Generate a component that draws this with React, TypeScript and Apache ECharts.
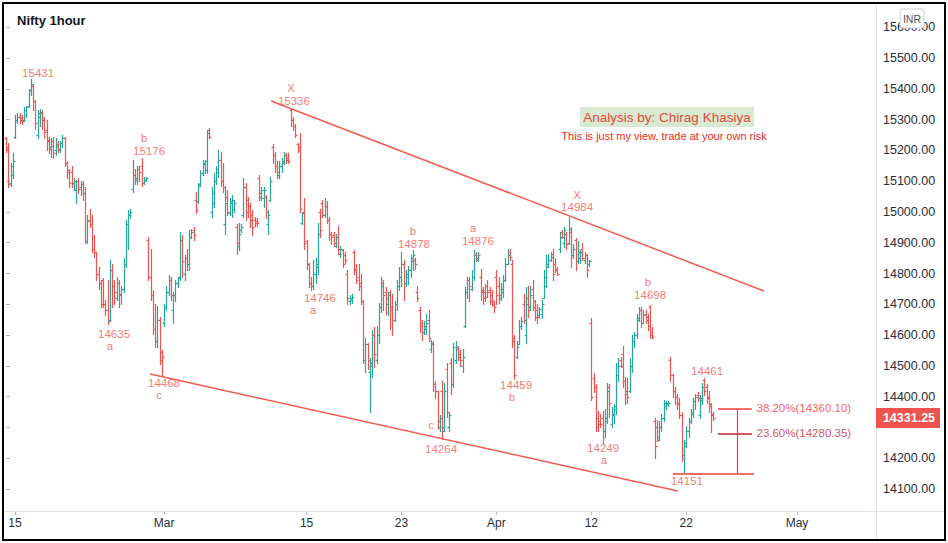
import React, { useEffect, useRef } from "react";
import * as echarts from "echarts";

// ---------- data ----------
const TITLE = "Nifty 1hour";
const LAST_PRICE = 14331.25;

// hourly bars from Feb 15 2021, 09:15 : [open, close, low, high]
const ohlc: number[][] = [
  [15240, 15205, 15195, 15245], [15210, 15090, 15080, 15225], [15095, 15150, 15085, 15160], [15120, 15165, 15110, 15190],
  [15245, 15300, 15240, 15315], [15300, 15310, 15290, 15320], [15310, 15300, 15290, 15320], [15305, 15295, 15285, 15315],
  [15300, 15330, 15295, 15340], [15330, 15340, 15310, 15345], [15345, 15395, 15340, 15400], [15395, 15415, 15380, 15431],
  [15410, 15360, 15330, 15415], [15360, 15290, 15270, 15365], [15250, 15320, 15240, 15330], [15310, 15325, 15280, 15335],
  [15320, 15300, 15270, 15330], [15300, 15260, 15240, 15310], [15265, 15230, 15200, 15300], [15235, 15205, 15190, 15245],
  [15210, 15215, 15180, 15240], [15230, 15190, 15175, 15245], [15200, 15215, 15185, 15240], [15220, 15200, 15195, 15230],
  [15205, 15225, 15195, 15230], [15225, 15240, 15210, 15250], [15240, 15160, 15150, 15245], [15160, 15130, 15110, 15165],
  [15135, 15095, 15080, 15140], [15130, 15095, 15080, 15150], [15095, 15100, 15070, 15110], [15070, 15100, 15030, 15105],
  [15100, 15075, 15060, 15110], [15080, 15090, 15055, 15100], [15090, 15060, 15040, 15100], [15060, 14905, 14900, 15080],
  [14905, 14970, 14900, 14990], [14975, 14960, 14950, 15010], [14960, 14880, 14870, 14990], [14880, 14870, 14855, 14925],
  [14870, 14800, 14780, 14870], [14800, 14770, 14750, 14820], [14770, 14700, 14690, 14780], [14780, 14700, 14690, 14785],
  [14700, 14680, 14665, 14715], [14680, 14645, 14635, 14780], [14650, 14810, 14645, 14845], [14810, 14760, 14690, 14830],
  [14760, 14740, 14700, 14780], [14720, 14770, 14715, 14790], [14770, 14730, 14690, 14780], [14735, 14750, 14700, 14760],
  [14750, 14830, 14740, 14850], [14830, 14960, 14820, 14975], [14960, 14990, 14880, 15005], [14990, 15000, 14980, 15010],
  [15075, 15120, 15065, 15170], [15120, 15110, 15090, 15140], [15105, 15140, 15090, 15150], [15140, 15130, 15100, 15150],
  [15150, 15095, 15085, 15176], [15095, 15105, 15090, 15115], [15105, 15110, 15100, 15115], [14910, 14790, 14780, 14920],
  [14790, 14730, 14715, 14880], [14730, 14620, 14605, 14745], [14620, 14580, 14560, 14700], [14580, 14650, 14560, 14695],
  [14650, 14520, 14505, 14660], [14545, 14530, 14468, 14550], [14640, 14690, 14630, 14700], [14690, 14740, 14680, 14760],
  [14740, 14780, 14730, 14795], [14780, 14730, 14715, 14790], [14680, 14730, 14640, 14740], [14730, 14770, 14710, 14780],
  [14770, 14785, 14755, 14790], [14790, 14910, 14780, 14935], [14910, 14840, 14790, 14925], [14800, 14850, 14780, 14860],
  [14850, 14830, 14810, 14880], [14830, 14920, 14810, 14940], [14920, 14935, 14915, 14945], [14940, 14925, 14910, 14950],
  [15040, 15005, 14995, 15065], [15035, 15085, 15030, 15095], [15090, 15125, 15085, 15135], [15125, 15160, 15120, 15170],
  [15155, 15165, 15125, 15170], [15135, 15255, 15125, 15265], [15265, 15245, 15240, 15272], [15000, 15060, 14985, 15080],
  [15030, 15100, 15015, 15125], [15100, 15140, 15090, 15150], [15130, 15170, 15115, 15200], [15170, 15100, 15085, 15195],
  [15100, 15080, 15065, 15160], [14960, 15030, 14930, 15085], [15050, 15000, 14990, 15070], [14995, 15035, 14990, 15045],
  [15030, 15040, 14985, 15055], [15010, 15030, 15000, 15040], [14950, 14900, 14865, 14960], [14890, 14930, 14875, 14965],
  [14940, 14950, 14935, 14960], [14990, 15080, 14985, 15110], [15080, 15000, 14975, 15095], [15040, 15020, 14985, 15050],
  [15020, 14975, 14950, 15030], [14990, 14950, 14925, 15005], [14975, 14965, 14955, 14985], [14970, 14965, 14955, 14980],
  [15110, 15060, 15040, 15120], [15050, 15070, 15040, 15080], [15045, 15070, 15015, 15080], [15050, 15000, 14980, 15055],
  [14960, 14990, 14930, 15005], [15040, 15100, 15035, 15115], [15210, 15185, 15160, 15220], [15185, 15150, 15130, 15195],
  [15150, 15130, 15110, 15165], [15120, 15150, 15110, 15165], [15150, 15165, 15130, 15175], [15160, 15185, 15155, 15195],
  [15185, 15170, 15160, 15190], [15175, 15165, 15160, 15190], [15330, 15300, 15280, 15336], [15300, 15280, 15265, 15310],
  [15280, 15250, 15245, 15285], [15220, 15200, 15195, 15225], [15210, 15010, 15000, 15255], [14965, 14995, 14960, 15000],
  [15000, 14900, 14880, 15045], [14905, 14830, 14815, 14910], [14830, 14770, 14755, 14835], [14770, 14760, 14746, 14790],
  [14760, 14800, 14750, 14845], [14800, 14830, 14770, 14850], [14820, 14930, 14800, 14965], [15000, 14940, 14920, 15010],
  [15030, 14990, 14985, 15040], [14990, 15020, 14985, 15045], [15020, 14975, 14965, 15035], [14975, 14930, 14910, 14985],
  [14930, 14920, 14895, 14935], [14925, 14900, 14890, 14935], [14890, 14920, 14885, 14930], [14920, 14880, 14865, 14955],
  [14865, 14880, 14855, 14890], [14875, 14830, 14820, 14880], [14860, 14845, 14835, 14870], [14800, 14720, 14700, 14810],
  [14710, 14720, 14700, 14730], [14715, 14725, 14705, 14735], [14870, 14810, 14800, 14876], [14815, 14780, 14770, 14830],
  [14790, 14760, 14745, 14830], [14770, 14710, 14700, 14800], [14710, 14520, 14510, 14715], [14520, 14570, 14480, 14590],
  [14570, 14520, 14490, 14575], [14480, 14510, 14350, 14525], [14500, 14600, 14465, 14615], [14600, 14540, 14495, 14625],
  [14520, 14600, 14510, 14630], [14600, 14690, 14575, 14705], [14690, 14760, 14675, 14790], [14770, 14730, 14680, 14780],
  [14740, 14720, 14670, 14755], [14700, 14730, 14665, 14740], [14740, 14680, 14620, 14746], [14690, 14650, 14600, 14735],
  [14650, 14700, 14645, 14710], [14700, 14760, 14680, 14780], [14760, 14790, 14745, 14820], [14790, 14830, 14760, 14870],
  [14830, 14770, 14715, 14845], [14770, 14800, 14760, 14810], [14790, 14810, 14765, 14825], [14810, 14850, 14790, 14860],
  [14840, 14860, 14810, 14878], [14845, 14830, 14815, 14850], [14740, 14720, 14710, 14760], [14680, 14630, 14610, 14690],
  [14640, 14610, 14585, 14650], [14610, 14630, 14605, 14645], [14620, 14640, 14605, 14670], [14650, 14590, 14580, 14680],
  [14555, 14575, 14545, 14585], [14570, 14440, 14420, 14580], [14440, 14420, 14395, 14450], [14420, 14320, 14295, 14420],
  [14300, 14330, 14290, 14340], [14420, 14290, 14264, 14450], [14300, 14420, 14290, 14445], [14490, 14350, 14335, 14510],
  [14300, 14340, 14290, 14350], [14510, 14440, 14410, 14525], [14440, 14560, 14430, 14575], [14520, 14555, 14510, 14580],
  [14560, 14530, 14520, 14565], [14540, 14520, 14500, 14550], [14500, 14530, 14480, 14555], [14630, 14740, 14625, 14755],
  [14740, 14780, 14720, 14790], [14780, 14760, 14710, 14790], [14750, 14790, 14745, 14810], [14790, 14860, 14780, 14876],
  [14860, 14850, 14840, 14870], [14845, 14860, 14840, 14870], [14790, 14740, 14715, 14815], [14745, 14720, 14700, 14755],
  [14740, 14725, 14710, 14765], [14760, 14740, 14725, 14780], [14745, 14710, 14700, 14755], [14730, 14710, 14695, 14745],
  [14700, 14690, 14675, 14710], [14790, 14730, 14700, 14810], [14760, 14730, 14705, 14790], [14720, 14750, 14715, 14770],
  [14740, 14780, 14725, 14795], [14780, 14830, 14775, 14850], [14830, 14860, 14830, 14880], [14870, 14855, 14845, 14880],
  [14830, 14580, 14560, 14845], [14590, 14470, 14459, 14600], [14530, 14560, 14525, 14580], [14570, 14630, 14570, 14650],
  [14630, 14645, 14620, 14660], [14700, 14650, 14640, 14735], [14600, 14700, 14575, 14755], [14720, 14680, 14660, 14760],
  [14690, 14730, 14680, 14760], [14750, 14690, 14680, 14780], [14710, 14660, 14650, 14715], [14680, 14660, 14640, 14700],
  [14665, 14685, 14655, 14690], [14670, 14700, 14655, 14715], [14720, 14790, 14720, 14810], [14760, 14820, 14755, 14860],
  [14830, 14845, 14820, 14865], [14845, 14855, 14840, 14870], [14865, 14800, 14780, 14880], [14830, 14810, 14805, 14850],
  [14815, 14800, 14795, 14820], [14880, 14920, 14870, 14935], [14935, 14920, 14915, 14940], [14900, 14940, 14885, 14950],
  [14930, 14895, 14880, 14935], [14900, 14945, 14895, 14984], [14935, 14860, 14820, 14950], [14860, 14880, 14850, 14895],
  [14910, 14840, 14810, 14915], [14840, 14870, 14835, 14905], [14850, 14870, 14835, 14875], [14880, 14850, 14845, 14900],
  [14845, 14860, 14835, 14870], [14860, 14810, 14790, 14865], [14830, 14840, 14825, 14845], [14640, 14400, 14390, 14655],
  [14460, 14430, 14415, 14476], [14430, 14300, 14290, 14440], [14330, 14310, 14290, 14355], [14320, 14310, 14300, 14345],
  [14330, 14290, 14249, 14355], [14290, 14330, 14270, 14360], [14320, 14420, 14315, 14445], [14430, 14380, 14335, 14440],
  [14310, 14345, 14300, 14365], [14340, 14370, 14315, 14375], [14360, 14470, 14345, 14510], [14470, 14500, 14450, 14525],
  [14520, 14500, 14495, 14530], [14540, 14450, 14430, 14565], [14450, 14410, 14375, 14465], [14420, 14400, 14380, 14460],
  [14420, 14500, 14415, 14525], [14500, 14580, 14480, 14600], [14580, 14600, 14560, 14610], [14600, 14650, 14590, 14670],
  [14655, 14680, 14645, 14690], [14680, 14640, 14625, 14690], [14640, 14665, 14640, 14680], [14670, 14650, 14640, 14680],
  [14660, 14630, 14615, 14670], [14690, 14600, 14590, 14698], [14610, 14595, 14590, 14625], [14320, 14240, 14200, 14330],
  [14300, 14260, 14255, 14325], [14270, 14300, 14260, 14320], [14300, 14330, 14290, 14345], [14330, 14380, 14320, 14390],
  [14370, 14380, 14360, 14385], [14375, 14380, 14370, 14385], [14520, 14470, 14450, 14530], [14470, 14420, 14400, 14475],
  [14420, 14400, 14375, 14430], [14400, 14375, 14360, 14410], [14380, 14340, 14330, 14395], [14340, 14210, 14190, 14350],
  [14200, 14250, 14151, 14260], [14240, 14290, 14235, 14305], [14290, 14320, 14270, 14330], [14320, 14350, 14315, 14360],
  [14345, 14385, 14335, 14395], [14385, 14400, 14360, 14410], [14405, 14395, 14385, 14415], [14340, 14395, 14330, 14405],
  [14390, 14430, 14375, 14445], [14455, 14420, 14405, 14461], [14430, 14395, 14380, 14440], [14400, 14370, 14350, 14420],
  [14375, 14340, 14285, 14380], [14345, 14331.25, 14325, 14350],
];

// time axis: bar index of each labelled tick
const timeTickIndex = [4, 70, 133, 175, 217, 259, 301, 350];
const timeTickLabels = ["15", "Mar", "15", "23", "Apr", "12", "22", "May"];

// price axis ticks (14300 is hidden behind the last-price badge)
const priceTicks = [14100, 14200, 14300, 14400, 14500, 14600, 14700, 14800, 14900, 15000, 15100, 15200, 15300, 15400, 15500, 15600];
const priceLabelTicks = [14100, 14200, 14400, 14500, 14600, 14700, 14800, 14900, 15000, 15100, 15200, 15300, 15400, 15500, 15600];

// wave annotations: [text, bar index, price]
const waveLabels: [string, number, number][] = [
  ["15431", 14.2, 15451],
  ["b", 61.1, 15240], ["15176", 63.3, 15198],
  ["X", 126.1, 15403], ["15336", 127.4, 15360],
  ["14635", 47.8, 14604], ["a", 46.0, 14565],
  ["14468", 69.9, 14444], ["c", 67.7, 14405],
  ["14746", 138.9, 14721], ["a", 135.8, 14682],
  ["b", 180.1, 14938], ["14878", 180.5, 14896],
  ["a", 206.6, 14948], ["14876", 208.8, 14906],
  ["X", 252.7, 15055], ["14984", 252.7, 15016],
  ["b", 284.1, 14773], ["14698", 285.0, 14730],
  ["14459", 225.7, 14438], ["b", 223.9, 14399],
  ["c", 188.1, 14308], ["14264", 192.5, 14230],
  ["14249", 264.2, 14233], ["a", 264.6, 14194],
  ["14461", 310.2, 14483],
  ["14151", 301.3, 14127],
];

// channel lines: [[index, price], [index, price]]
const channelLines: [number, number][][] = [
  [[117.3, 15360.3], [335.4, 14743.3]],
  [[63.7, 14473.7], [297.3, 14093.7]],
];

// fibonacci tool
const fibLevels = [
  { text: "38.20%(14360.10)", price: 14360.1 },
  { text: "23.60%(14280.35)", price: 14280.35 },
];
const fibBasePrice = 14151;
const fibRange = [315, 330];
const fibBaseRange = [295.1, 331];
const fibStemIndex = 323.5;
const fibTextIndex = 332.3;

// ---------- styles ----------
const GREEN = "#26a69a";
const RED = "#ef5350";
const ANN = "#ef564e";
const FONT = '"Liberation Sans", Arial, sans-serif';
const X_MIN = -0.885;
const X_MAX = 384.96;
const Y_MIN = 14028.7;
const Y_MAX = 15675.4;

export default function App() {
  const ref = useRef<HTMLDivElement>(null);

  useEffect(() => {
    document.body.style.margin = "0";
    const chart = echarts.init(ref.current!, null, { renderer: "svg" });

    const barData = ohlc.map((b, i) => [i, b[0], b[1], b[2], b[3]]);

    const fibColors = ["#f23a35", "#c3262c"];
    const seg = (a: number[], b: number[], color: string, width: number) => [
      { coord: a, lineStyle: { color, width, type: "solid" } },
      { coord: b, lineStyle: { color, width, type: "solid" } },
    ];
    const markLines: any[] = [];
    channelLines.forEach((ln) => markLines.push(seg(ln[0], ln[1], "#f25a52", 1.5)));
    fibLevels.forEach((f, k) =>
      markLines.push(seg([fibRange[0], f.price], [fibRange[1], f.price], fibColors[k], 1.5))
    );
    markLines.push(seg([fibBaseRange[0], fibBasePrice], [fibBaseRange[1], fibBasePrice], "#e8413b", 1.5));
    markLines.push(seg([fibStemIndex, fibLevels[0].price], [fibStemIndex, fibBasePrice], "#e8413b", 1.2));

    const option: any = {
      animation: false,
      backgroundColor: "#ffffff",
      grid: { left: 4, right: 72, top: 4, bottom: 32 },
      xAxis: {
        type: "value",
        min: X_MIN,
        max: X_MAX,
        axisLine: { show: false },
        splitLine: { show: false },
        axisTick: { show: true, customValues: timeTickIndex, length: 4, lineStyle: { color: "#b2b5be" } },
        axisLabel: {
          customValues: timeTickIndex,
          formatter: (v: number) => {
            const k = timeTickIndex.indexOf(Math.round(v));
            return k >= 0 ? timeTickLabels[k] : "";
          },
          color: "#2a2e39",
          fontSize: 12,
          fontFamily: FONT,
          margin: 6,
        },
      },
      yAxis: {
        type: "value",
        position: "right",
        min: Y_MIN,
        max: Y_MAX,
        axisLine: { show: false },
        splitLine: { show: false },
        axisTick: { show: true, customValues: priceTicks, length: 4, lineStyle: { color: "#b2b5be" } },
        axisLabel: {
          customValues: priceLabelTicks,
          formatter: (v: number) => v.toFixed(2),
          color: "#2a2e39",
          fontSize: 12.5,
          fontFamily: FONT,
          margin: 7,
        },
      },
      series: [
        {
          type: "custom",
          name: "ohlc",
          data: barData,
          encode: { x: 0, y: [1, 2, 3, 4] },
          renderItem: (_params: any, api: any) => {
            const idx = api.value(0);
            const o = api.value(1);
            const c = api.value(2);
            const l = api.value(3);
            const h = api.value(4);
            const pH = api.coord([idx, h]);
            const pL = api.coord([idx, l]);
            const pO = api.coord([idx, o]);
            const pC = api.coord([idx, c]);
            const x = Math.round(pH[0]) + 0.5;
            const color = c >= o ? GREEN : RED;
            const style = { stroke: color, lineWidth: 1.2 };
            const yo = Math.round(pO[1]) + 0.5;
            const yc = Math.round(pC[1]) + 0.5;
            return {
              type: "group",
              children: [
                { type: "line", shape: { x1: x, y1: Math.round(pH[1]), x2: x, y2: Math.round(pL[1]) + 1 }, style },
                { type: "line", shape: { x1: x - 2, y1: yo, x2: x, y2: yo }, style },
                { type: "line", shape: { x1: x, y1: yc, x2: x + 2, y2: yc }, style },
              ],
            };
          },
        },
        {
          type: "scatter",
          name: "waves",
          silent: true,
          symbolSize: 1,
          itemStyle: { color: "rgba(0,0,0,0)" },
          data: waveLabels.map((w) => ({ name: w[0], value: [w[1], w[2]] })),
          label: {
            show: true,
            position: "inside",
            formatter: "{b}",
            color: ANN,
            fontSize: 11.5,
            lineHeight: 12,
            fontFamily: FONT,
          },
          labelLayout: { hideOverlap: false },
          markLine: {
            silent: true,
            symbol: ["none", "none"],
            label: { show: false },
            data: markLines,
          },
          z: 5,
        },
        {
          type: "scatter",
          name: "fib",
          silent: true,
          symbolSize: 1,
          itemStyle: { color: "rgba(0,0,0,0)" },
          data: fibLevels.map((f, k) => ({
            name: f.text,
            value: [fibTextIndex, f.price],
            label: { color: fibColors[k] },
          })),
          label: {
            show: true,
            position: [0, 0],
            align: "left",
            verticalAlign: "middle",
            formatter: "{b}",
            fontSize: 11.5,
            lineHeight: 12,
            fontFamily: FONT,
          },
          z: 5,
        },
      ],
    };
    chart.setOption(option);

    const py = chart.convertToPixel({ yAxisIndex: 0 }, LAST_PRICE) as number;

    chart.setOption({
      graphic: [
        { type: "line", shape: { x1: 4, y1: 511.5, x2: 945, y2: 511.5 }, style: { stroke: "#e0e3eb", lineWidth: 1 }, z: 50 },
        { type: "line", shape: { x1: 876.5, y1: 4, x2: 876.5, y2: 540 }, style: { stroke: "#e0e3eb", lineWidth: 1 }, z: 50 },
        {
          type: "text",
          z: 60,
          style: { text: TITLE, x: 17, y: 20, fill: "#131722", font: `bold 13px ${FONT}`, align: "left", verticalAlign: "middle", textAlign: "left", textVerticalAlign: "middle" },
        },
        { type: "rect", z: 60, shape: { x: 900, y: 9, width: 24, height: 19, r: 3 }, style: { fill: "#ffffff", stroke: "#c9ccd3", lineWidth: 1 } },
        {
          type: "text",
          z: 61,
          style: { text: "INR", x: 912, y: 18.5, fill: "#4a4e59", font: `10.5px ${FONT}`, align: "center", verticalAlign: "middle", textAlign: "center", textVerticalAlign: "middle" },
        },
        { type: "rect", z: 60, shape: { x: 580, y: 107, width: 174, height: 20 }, style: { fill: "#d9ead3" } },
        {
          type: "text",
          z: 61,
          style: { text: "Analysis by: Chirag Khasiya", x: 667, y: 117, fill: "#e8473d", font: `13.5px ${FONT}`, align: "center", verticalAlign: "middle", textAlign: "center", textVerticalAlign: "middle" },
        },
        {
          type: "text",
          z: 61,
          style: { text: "This is just my view, trade at your own risk", x: 664, y: 136, fill: "#ef2a24", font: `11px ${FONT}`, align: "center", verticalAlign: "middle", textAlign: "center", textVerticalAlign: "middle" },
        },
        { type: "rect", z: 70, shape: { x: 876, y: Math.round(py) - 10, width: 64, height: 20 }, style: { fill: RED } },
        {
          type: "text",
          z: 71,
          style: { text: LAST_PRICE.toFixed(2), x: 909, y: Math.round(py), fill: "#ffffff", font: `bold 12.5px ${FONT}`, align: "center", verticalAlign: "middle", textAlign: "center", textVerticalAlign: "middle" },
        },
        { type: "rect", z: 80, shape: { x: 3, y: 3, width: 942, height: 537 }, style: { fill: "none", stroke: "#000000", lineWidth: 2 } },
      ],
    });

    return () => chart.dispose();
  }, []);

  return (
    <div
      ref={ref}
      style={{ position: "absolute", left: 0, top: 0, width: 948, height: 543, background: "#ffffff" }}
    />
  );
}
